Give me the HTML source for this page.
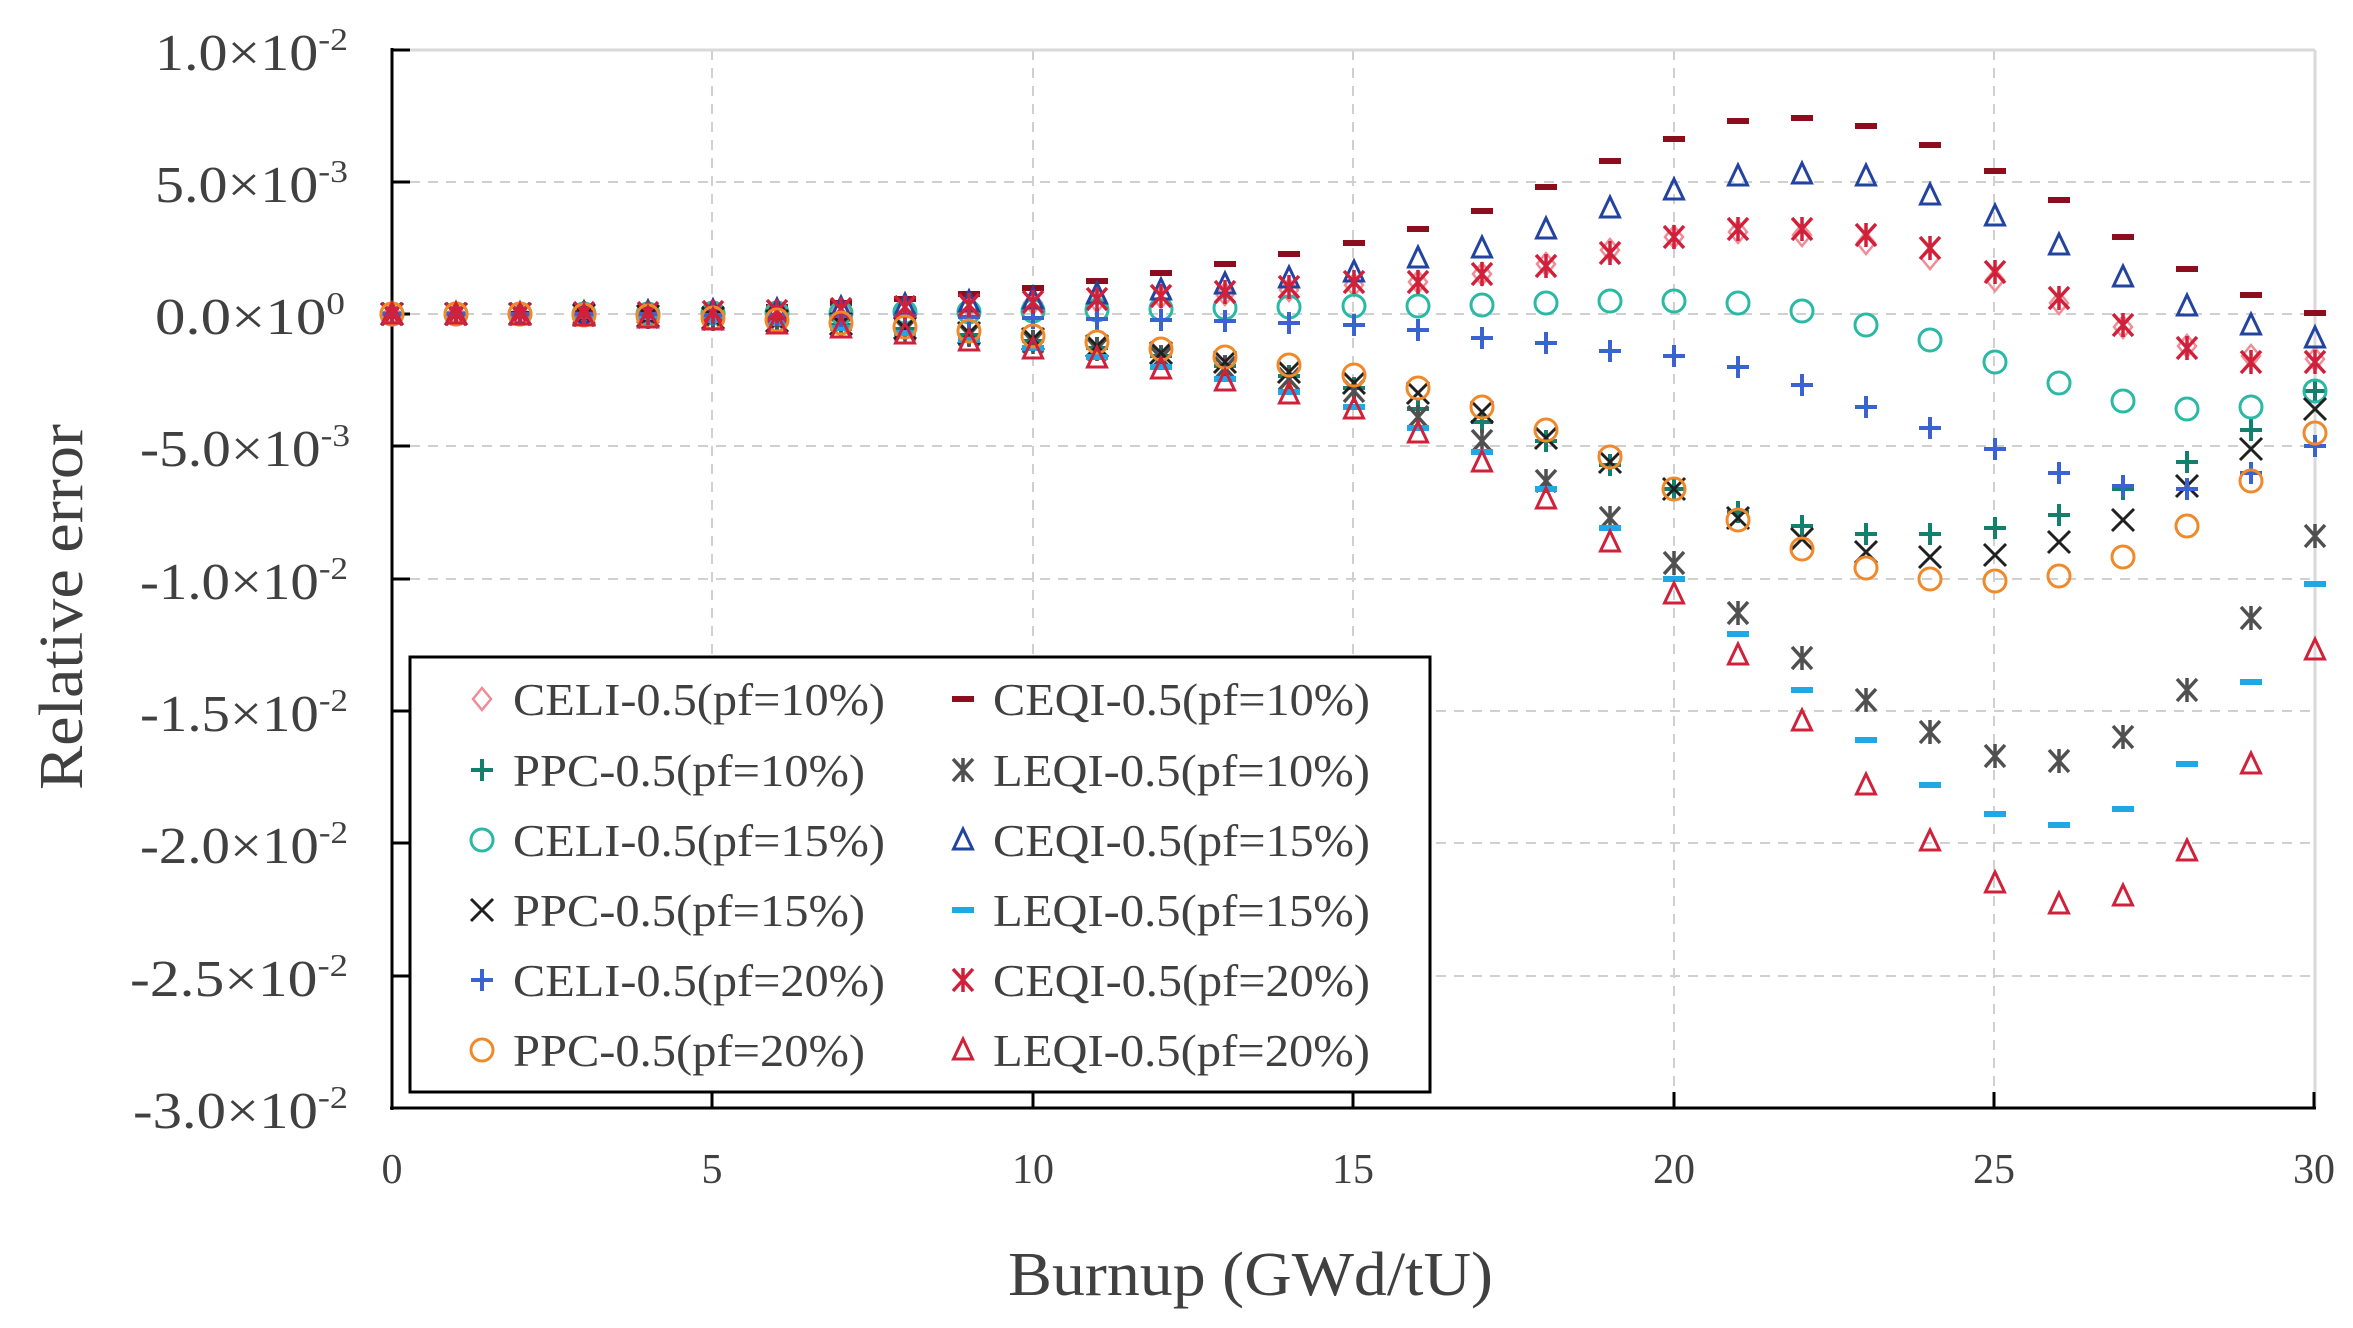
<!DOCTYPE html>
<html><head><meta charset="utf-8"><style>html,body{margin:0;padding:0;background:#fff}svg{display:block}</style></head>
<body>
<svg width="2353" height="1328" viewBox="0 0 2353 1328" xmlns="http://www.w3.org/2000/svg" xmlns:xlink="http://www.w3.org/1999/xlink" font-family="Liberation Serif, serif" fill="#404040">
<defs>
<g id="d"><path d="M0 -11L9 0L0 11L-9 0Z" fill="none" stroke="currentColor" stroke-width="2.5"/></g>
<g id="p"><path d="M-11 0H11M0 -11V11" fill="none" stroke="currentColor" stroke-width="4"/></g>
<g id="o"><circle r="11" fill="none" stroke="currentColor" stroke-width="3"/></g>
<g id="x"><path d="M-11 -11L11 11M11 -11L-11 11" fill="none" stroke="currentColor" stroke-width="3"/></g>
<g id="a"><path d="M-10 -11L10 11M10 -11L-10 11M0 -12V12" fill="none" stroke="currentColor" stroke-width="3.5"/></g>
<g id="m"><rect x="-11" y="-3" width="22" height="6" fill="currentColor"/></g>
<g id="t"><path d="M0 -11L9.5 9L-9.5 9Z" fill="none" stroke="currentColor" stroke-width="3"/></g>
</defs>
<g stroke="#d0d0d0" stroke-width="2" stroke-dasharray="10,8" fill="none">
<line x1="712" y1="50" x2="712" y2="1108"/>
<line x1="1033" y1="50" x2="1033" y2="1108"/>
<line x1="1353" y1="50" x2="1353" y2="1108"/>
<line x1="1674" y1="50" x2="1674" y2="1108"/>
<line x1="1994" y1="50" x2="1994" y2="1108"/>
<line x1="392" y1="182" x2="2314" y2="182"/>
<line x1="392" y1="314" x2="2314" y2="314"/>
<line x1="392" y1="446" x2="2314" y2="446"/>
<line x1="392" y1="579" x2="2314" y2="579"/>
<line x1="392" y1="711" x2="2314" y2="711"/>
<line x1="392" y1="843" x2="2314" y2="843"/>
<line x1="392" y1="976" x2="2314" y2="976"/>
</g>
<line x1="392" y1="50" x2="2315" y2="50" stroke="#d9d9d9" stroke-width="3"/>
<line x1="2315" y1="50" x2="2315" y2="1108" stroke="#d9d9d9" stroke-width="3"/>
<g stroke="#000" stroke-width="3">
<line x1="392" y1="48" x2="392" y2="1110"/>
<line x1="390" y1="1108" x2="2316" y2="1108"/>
<line x1="392" y1="50" x2="410" y2="50"/><line x1="392" y1="182" x2="410" y2="182"/>
<line x1="392" y1="314" x2="410" y2="314"/><line x1="392" y1="446" x2="410" y2="446"/>
<line x1="392" y1="579" x2="410" y2="579"/><line x1="392" y1="711" x2="410" y2="711"/>
<line x1="392" y1="843" x2="410" y2="843"/><line x1="392" y1="976" x2="410" y2="976"/>
<line x1="712" y1="1108" x2="712" y2="1092"/><line x1="1033" y1="1108" x2="1033" y2="1092"/>
<line x1="1353" y1="1108" x2="1353" y2="1092"/><line x1="1674" y1="1108" x2="1674" y2="1092"/>
<line x1="1994" y1="1108" x2="1994" y2="1092"/><line x1="2314" y1="1108" x2="2314" y2="1092"/>
</g>

<!-- series -->
<g style="color:#f08c96">
<use href="#d" x="392" y="314"/><use href="#d" x="456" y="314"/><use href="#d" x="520" y="314"/><use href="#d" x="584" y="314"/><use href="#d" x="648" y="313"/><use href="#d" x="713" y="312"/><use href="#d" x="777" y="311"/><use href="#d" x="841" y="310"/><use href="#d" x="905" y="308"/><use href="#d" x="969" y="306"/><use href="#d" x="1033" y="303"/><use href="#d" x="1097" y="301"/><use href="#d" x="1161" y="297"/><use href="#d" x="1225" y="294"/><use href="#d" x="1289" y="290"/>
<use href="#d" x="1354" y="285"/><use href="#d" x="1418" y="282"/><use href="#d" x="1482" y="274"/><use href="#d" x="1546" y="264"/><use href="#d" x="1610" y="250"/><use href="#d" x="1674" y="237"/><use href="#d" x="1738" y="232"/><use href="#d" x="1802" y="235"/><use href="#d" x="1866" y="243"/><use href="#d" x="1930" y="258"/><use href="#d" x="1995" y="280"/><use href="#d" x="2059" y="303"/><use href="#d" x="2123" y="327"/><use href="#d" x="2187" y="346"/><use href="#d" x="2251" y="356"/><use href="#d" x="2315" y="359"/>
</g>
<g style="color:#8b0d1e">
<use href="#m" x="392" y="314"/><use href="#m" x="456" y="314"/><use href="#m" x="520" y="314"/><use href="#m" x="584" y="313"/><use href="#m" x="648" y="311"/><use href="#m" x="713" y="309"/><use href="#m" x="777" y="307"/><use href="#m" x="841" y="303"/><use href="#m" x="905" y="299"/><use href="#m" x="969" y="294"/><use href="#m" x="1033" y="288"/><use href="#m" x="1097" y="281"/><use href="#m" x="1161" y="273"/><use href="#m" x="1225" y="264"/><use href="#m" x="1289" y="254"/>
<use href="#m" x="1354" y="243"/><use href="#m" x="1418" y="229"/><use href="#m" x="1482" y="211"/><use href="#m" x="1546" y="187"/><use href="#m" x="1610" y="161"/><use href="#m" x="1674" y="139"/><use href="#m" x="1738" y="121"/><use href="#m" x="1802" y="118"/><use href="#m" x="1866" y="126"/><use href="#m" x="1930" y="145"/><use href="#m" x="1995" y="171"/><use href="#m" x="2059" y="200"/><use href="#m" x="2123" y="237"/><use href="#m" x="2187" y="269"/><use href="#m" x="2251" y="295"/><use href="#m" x="2315" y="313"/>
</g>
<g style="color:#13806e">
<use href="#p" x="392" y="314"/><use href="#p" x="456" y="314"/><use href="#p" x="520" y="314"/><use href="#p" x="584" y="315"/><use href="#p" x="648" y="317"/><use href="#p" x="713" y="319"/><use href="#p" x="777" y="322"/><use href="#p" x="841" y="325"/><use href="#p" x="905" y="329"/><use href="#p" x="969" y="335"/><use href="#p" x="1033" y="341"/><use href="#p" x="1097" y="348"/><use href="#p" x="1161" y="356"/><use href="#p" x="1225" y="366"/><use href="#p" x="1289" y="376"/>
<use href="#p" x="1354" y="388"/><use href="#p" x="1418" y="409"/><use href="#p" x="1482" y="422"/><use href="#p" x="1546" y="441"/><use href="#p" x="1610" y="465"/><use href="#p" x="1674" y="489"/><use href="#p" x="1738" y="512"/><use href="#p" x="1802" y="526"/><use href="#p" x="1866" y="534"/><use href="#p" x="1930" y="534"/><use href="#p" x="1995" y="528"/><use href="#p" x="2059" y="515"/><use href="#p" x="2123" y="489"/><use href="#p" x="2187" y="462"/><use href="#p" x="2251" y="430"/><use href="#p" x="2315" y="391"/>
</g>
<g style="color:#505050">
<use href="#a" x="392" y="314"/><use href="#a" x="456" y="314"/><use href="#a" x="520" y="314"/><use href="#a" x="584" y="315"/><use href="#a" x="648" y="317"/><use href="#a" x="713" y="319"/><use href="#a" x="777" y="322"/><use href="#a" x="841" y="325"/><use href="#a" x="905" y="330"/><use href="#a" x="969" y="335"/><use href="#a" x="1033" y="342"/><use href="#a" x="1097" y="349"/><use href="#a" x="1161" y="358"/><use href="#a" x="1225" y="368"/><use href="#a" x="1289" y="379"/>
<use href="#a" x="1354" y="391"/><use href="#a" x="1418" y="417"/><use href="#a" x="1482" y="441"/><use href="#a" x="1546" y="481"/><use href="#a" x="1610" y="518"/><use href="#a" x="1674" y="563"/><use href="#a" x="1738" y="613"/><use href="#a" x="1802" y="658"/><use href="#a" x="1866" y="700"/><use href="#a" x="1930" y="732"/><use href="#a" x="1995" y="756"/><use href="#a" x="2059" y="761"/><use href="#a" x="2123" y="737"/><use href="#a" x="2187" y="690"/><use href="#a" x="2251" y="618"/><use href="#a" x="2315" y="536"/>
</g>
<g style="color:#2ab9a5">
<use href="#o" x="392" y="314"/><use href="#o" x="456" y="314"/><use href="#o" x="520" y="314"/><use href="#o" x="584" y="314"/><use href="#o" x="648" y="314"/><use href="#o" x="713" y="313"/><use href="#o" x="777" y="313"/><use href="#o" x="841" y="313"/><use href="#o" x="905" y="312"/><use href="#o" x="969" y="312"/><use href="#o" x="1033" y="311"/><use href="#o" x="1097" y="310"/><use href="#o" x="1161" y="309"/><use href="#o" x="1225" y="308"/><use href="#o" x="1289" y="307"/>
<use href="#o" x="1354" y="306"/><use href="#o" x="1418" y="306"/><use href="#o" x="1482" y="305"/><use href="#o" x="1546" y="303"/><use href="#o" x="1610" y="301"/><use href="#o" x="1674" y="301"/><use href="#o" x="1738" y="303"/><use href="#o" x="1802" y="311"/><use href="#o" x="1866" y="325"/><use href="#o" x="1930" y="340"/><use href="#o" x="1995" y="362"/><use href="#o" x="2059" y="383"/><use href="#o" x="2123" y="401"/><use href="#o" x="2187" y="409"/><use href="#o" x="2251" y="407"/><use href="#o" x="2315" y="391"/>
</g>
<g style="color:#2244a0">
<use href="#t" x="392" y="314"/><use href="#t" x="456" y="314"/><use href="#t" x="520" y="314"/><use href="#t" x="584" y="313"/><use href="#t" x="648" y="312"/><use href="#t" x="713" y="311"/><use href="#t" x="777" y="310"/><use href="#t" x="841" y="308"/><use href="#t" x="905" y="305"/><use href="#t" x="969" y="302"/><use href="#t" x="1033" y="299"/><use href="#t" x="1097" y="294"/><use href="#t" x="1161" y="290"/><use href="#t" x="1225" y="284"/><use href="#t" x="1289" y="278"/>
<use href="#t" x="1354" y="272"/><use href="#t" x="1418" y="258"/><use href="#t" x="1482" y="248"/><use href="#t" x="1546" y="229"/><use href="#t" x="1610" y="208"/><use href="#t" x="1674" y="190"/><use href="#t" x="1738" y="176"/><use href="#t" x="1802" y="174"/><use href="#t" x="1866" y="176"/><use href="#t" x="1930" y="195"/><use href="#t" x="1995" y="216"/><use href="#t" x="2059" y="245"/><use href="#t" x="2123" y="277"/><use href="#t" x="2187" y="306"/><use href="#t" x="2251" y="325"/><use href="#t" x="2315" y="338"/>
</g>
<g style="color:#202020">
<use href="#x" x="392" y="314"/><use href="#x" x="456" y="314"/><use href="#x" x="520" y="314"/><use href="#x" x="584" y="315"/><use href="#x" x="648" y="316"/><use href="#x" x="713" y="318"/><use href="#x" x="777" y="321"/><use href="#x" x="841" y="324"/><use href="#x" x="905" y="328"/><use href="#x" x="969" y="333"/><use href="#x" x="1033" y="339"/><use href="#x" x="1097" y="346"/><use href="#x" x="1161" y="353"/><use href="#x" x="1225" y="362"/><use href="#x" x="1289" y="372"/>
<use href="#x" x="1354" y="383"/><use href="#x" x="1418" y="393"/><use href="#x" x="1482" y="412"/><use href="#x" x="1546" y="438"/><use href="#x" x="1610" y="462"/><use href="#x" x="1674" y="489"/><use href="#x" x="1738" y="518"/><use href="#x" x="1802" y="539"/><use href="#x" x="1866" y="552"/><use href="#x" x="1930" y="557"/><use href="#x" x="1995" y="555"/><use href="#x" x="2059" y="542"/><use href="#x" x="2123" y="520"/><use href="#x" x="2187" y="486"/><use href="#x" x="2251" y="449"/><use href="#x" x="2315" y="409"/>
</g>
<g style="color:#1ea8e6">
<use href="#m" x="392" y="314"/><use href="#m" x="456" y="314"/><use href="#m" x="520" y="315"/><use href="#m" x="584" y="316"/><use href="#m" x="648" y="317"/><use href="#m" x="713" y="320"/><use href="#m" x="777" y="323"/><use href="#m" x="841" y="328"/><use href="#m" x="905" y="333"/><use href="#m" x="969" y="340"/><use href="#m" x="1033" y="348"/><use href="#m" x="1097" y="357"/><use href="#m" x="1161" y="367"/><use href="#m" x="1225" y="379"/><use href="#m" x="1289" y="392"/>
<use href="#m" x="1354" y="407"/><use href="#m" x="1418" y="428"/><use href="#m" x="1482" y="452"/><use href="#m" x="1546" y="489"/><use href="#m" x="1610" y="528"/><use href="#m" x="1674" y="579"/><use href="#m" x="1738" y="634"/><use href="#m" x="1802" y="690"/><use href="#m" x="1866" y="740"/><use href="#m" x="1930" y="785"/><use href="#m" x="1995" y="814"/><use href="#m" x="2059" y="825"/><use href="#m" x="2123" y="809"/><use href="#m" x="2187" y="764"/><use href="#m" x="2251" y="682"/><use href="#m" x="2315" y="584"/>
</g>
<g style="color:#3a62d0">
<use href="#p" x="392" y="314"/><use href="#p" x="456" y="314"/><use href="#p" x="520" y="314"/><use href="#p" x="584" y="314"/><use href="#p" x="648" y="314"/><use href="#p" x="713" y="315"/><use href="#p" x="777" y="315"/><use href="#p" x="841" y="316"/><use href="#p" x="905" y="316"/><use href="#p" x="969" y="317"/><use href="#p" x="1033" y="318"/><use href="#p" x="1097" y="319"/><use href="#p" x="1161" y="320"/><use href="#p" x="1225" y="321"/><use href="#p" x="1289" y="323"/>
<use href="#p" x="1354" y="325"/><use href="#p" x="1418" y="330"/><use href="#p" x="1482" y="338"/><use href="#p" x="1546" y="343"/><use href="#p" x="1610" y="351"/><use href="#p" x="1674" y="356"/><use href="#p" x="1738" y="367"/><use href="#p" x="1802" y="385"/><use href="#p" x="1866" y="407"/><use href="#p" x="1930" y="428"/><use href="#p" x="1995" y="449"/><use href="#p" x="2059" y="473"/><use href="#p" x="2123" y="486"/><use href="#p" x="2187" y="489"/><use href="#p" x="2251" y="473"/><use href="#p" x="2315" y="446"/>
</g>
<g style="color:#d0203a">
<use href="#a" x="392" y="314"/><use href="#a" x="456" y="314"/><use href="#a" x="520" y="314"/><use href="#a" x="584" y="313"/><use href="#a" x="648" y="313"/><use href="#a" x="713" y="312"/><use href="#a" x="777" y="311"/><use href="#a" x="841" y="309"/><use href="#a" x="905" y="307"/><use href="#a" x="969" y="305"/><use href="#a" x="1033" y="302"/><use href="#a" x="1097" y="299"/><use href="#a" x="1161" y="296"/><use href="#a" x="1225" y="292"/><use href="#a" x="1289" y="287"/>
<use href="#a" x="1354" y="282"/><use href="#a" x="1418" y="282"/><use href="#a" x="1482" y="274"/><use href="#a" x="1546" y="266"/><use href="#a" x="1610" y="253"/><use href="#a" x="1674" y="237"/><use href="#a" x="1738" y="229"/><use href="#a" x="1802" y="229"/><use href="#a" x="1866" y="235"/><use href="#a" x="1930" y="248"/><use href="#a" x="1995" y="272"/><use href="#a" x="2059" y="298"/><use href="#a" x="2123" y="325"/><use href="#a" x="2187" y="348"/><use href="#a" x="2251" y="362"/><use href="#a" x="2315" y="362"/>
</g>
<g style="color:#f0892a">
<use href="#o" x="392" y="314"/><use href="#o" x="456" y="314"/><use href="#o" x="520" y="314"/><use href="#o" x="584" y="315"/><use href="#o" x="648" y="316"/><use href="#o" x="713" y="318"/><use href="#o" x="777" y="320"/><use href="#o" x="841" y="323"/><use href="#o" x="905" y="327"/><use href="#o" x="969" y="331"/><use href="#o" x="1033" y="336"/><use href="#o" x="1097" y="342"/><use href="#o" x="1161" y="349"/><use href="#o" x="1225" y="357"/><use href="#o" x="1289" y="365"/>
<use href="#o" x="1354" y="375"/><use href="#o" x="1418" y="388"/><use href="#o" x="1482" y="407"/><use href="#o" x="1546" y="430"/><use href="#o" x="1610" y="457"/><use href="#o" x="1674" y="489"/><use href="#o" x="1738" y="520"/><use href="#o" x="1802" y="549"/><use href="#o" x="1866" y="568"/><use href="#o" x="1930" y="579"/><use href="#o" x="1995" y="581"/><use href="#o" x="2059" y="576"/><use href="#o" x="2123" y="557"/><use href="#o" x="2187" y="526"/><use href="#o" x="2251" y="481"/><use href="#o" x="2315" y="433"/>
</g>
<g style="color:#d0203a">
<use href="#t" x="392" y="314"/><use href="#t" x="456" y="314"/><use href="#t" x="520" y="315"/><use href="#t" x="584" y="316"/><use href="#t" x="648" y="318"/><use href="#t" x="713" y="320"/><use href="#t" x="777" y="324"/><use href="#t" x="841" y="328"/><use href="#t" x="905" y="334"/><use href="#t" x="969" y="341"/><use href="#t" x="1033" y="349"/><use href="#t" x="1097" y="358"/><use href="#t" x="1161" y="369"/><use href="#t" x="1225" y="381"/><use href="#t" x="1289" y="394"/>
<use href="#t" x="1354" y="409"/><use href="#t" x="1418" y="433"/><use href="#t" x="1482" y="462"/><use href="#t" x="1546" y="499"/><use href="#t" x="1610" y="542"/><use href="#t" x="1674" y="594"/><use href="#t" x="1738" y="655"/><use href="#t" x="1802" y="721"/><use href="#t" x="1866" y="785"/><use href="#t" x="1930" y="841"/><use href="#t" x="1995" y="883"/><use href="#t" x="2059" y="904"/><use href="#t" x="2123" y="896"/><use href="#t" x="2187" y="851"/><use href="#t" x="2251" y="764"/><use href="#t" x="2315" y="650"/>
</g>

<g font-size="52">
<text x="155" y="70" textLength="193" lengthAdjust="spacingAndGlyphs">1.0×10<tspan font-size="32" dy="-20">-2</tspan></text>
<text x="155" y="202" textLength="193" lengthAdjust="spacingAndGlyphs">5.0×10<tspan font-size="32" dy="-20">-3</tspan></text>
<text x="155" y="334" textLength="190" lengthAdjust="spacingAndGlyphs">0.0×10<tspan font-size="32" dy="-20">0</tspan></text>
<text x="140" y="466" textLength="210" lengthAdjust="spacingAndGlyphs">-5.0×10<tspan font-size="32" dy="-20">-3</tspan></text>
<text x="140" y="599" textLength="208" lengthAdjust="spacingAndGlyphs">-1.0×10<tspan font-size="32" dy="-20">-2</tspan></text>
<text x="140" y="731" textLength="208" lengthAdjust="spacingAndGlyphs">-1.5×10<tspan font-size="32" dy="-20">-2</tspan></text>
<text x="140" y="863" textLength="208" lengthAdjust="spacingAndGlyphs">-2.0×10<tspan font-size="32" dy="-20">-2</tspan></text>
<text x="130" y="996" textLength="218" lengthAdjust="spacingAndGlyphs">-2.5×10<tspan font-size="32" dy="-20">-2</tspan></text>
<text x="133" y="1128" textLength="215" lengthAdjust="spacingAndGlyphs">-3.0×10<tspan font-size="32" dy="-20">-2</tspan></text>
</g>
<g font-size="42" text-anchor="middle">
<text x="392" y="1183">0</text><text x="712" y="1183">5</text><text x="1033" y="1183">10</text>
<text x="1353" y="1183">15</text><text x="1674" y="1183">20</text><text x="1994" y="1183">25</text><text x="2314" y="1183">30</text>
</g>
<text x="1008" y="1295" font-size="62" textLength="485" lengthAdjust="spacingAndGlyphs">Burnup (GWd/tU)</text>
<text transform="translate(82,790) rotate(-90)" font-size="62" textLength="366" lengthAdjust="spacingAndGlyphs">Relative error</text>

<rect x="410" y="657" width="1020" height="435" fill="#fff" stroke="#000" stroke-width="3"/>
<g font-size="46">
<text x="513" y="715" textLength="372" lengthAdjust="spacingAndGlyphs">CELI-0.5(pf=10%)</text>
<text x="993" y="715" textLength="377" lengthAdjust="spacingAndGlyphs">CEQI-0.5(pf=10%)</text>
<text x="513" y="786" textLength="352" lengthAdjust="spacingAndGlyphs">PPC-0.5(pf=10%)</text>
<text x="993" y="786" textLength="377" lengthAdjust="spacingAndGlyphs">LEQI-0.5(pf=10%)</text>
<text x="513" y="856" textLength="372" lengthAdjust="spacingAndGlyphs">CELI-0.5(pf=15%)</text>
<text x="993" y="856" textLength="377" lengthAdjust="spacingAndGlyphs">CEQI-0.5(pf=15%)</text>
<text x="513" y="926" textLength="352" lengthAdjust="spacingAndGlyphs">PPC-0.5(pf=15%)</text>
<text x="993" y="926" textLength="377" lengthAdjust="spacingAndGlyphs">LEQI-0.5(pf=15%)</text>
<text x="513" y="996" textLength="372" lengthAdjust="spacingAndGlyphs">CELI-0.5(pf=20%)</text>
<text x="993" y="996" textLength="377" lengthAdjust="spacingAndGlyphs">CEQI-0.5(pf=20%)</text>
<text x="513" y="1066" textLength="352" lengthAdjust="spacingAndGlyphs">PPC-0.5(pf=20%)</text>
<text x="993" y="1066" textLength="377" lengthAdjust="spacingAndGlyphs">LEQI-0.5(pf=20%)</text>
</g>
<use href="#d" x="482" y="699" style="color:#f08c96"/>
<use href="#m" x="963" y="699" style="color:#8b0d1e"/>
<use href="#p" x="482" y="770" style="color:#13806e"/>
<use href="#a" x="963" y="770" style="color:#505050"/>
<use href="#o" x="482" y="840" style="color:#2ab9a5"/>
<use href="#t" x="963" y="840" style="color:#2244a0"/>
<use href="#x" x="482" y="910" style="color:#202020"/>
<use href="#m" x="963" y="910" style="color:#1ea8e6"/>
<use href="#p" x="482" y="980" style="color:#3a62d0"/>
<use href="#a" x="963" y="980" style="color:#d0203a"/>
<use href="#o" x="482" y="1050" style="color:#f0892a"/>
<use href="#t" x="963" y="1050" style="color:#d0203a"/>
</svg>
</body></html>
